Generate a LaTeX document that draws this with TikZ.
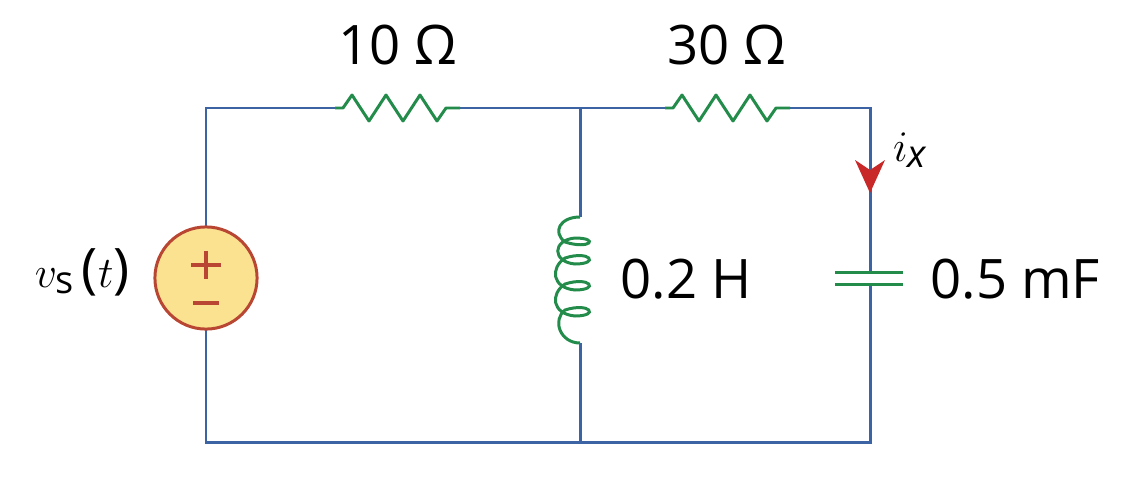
\documentclass[tikz,border=0pt]{standalone}
\usepackage{fontspec}
\setmainfont{Open Sans}
\definecolor{wire}{RGB}{60,100,165}
\definecolor{comp}{RGB}{35,140,75}
\definecolor{arr}{RGB}{200,40,40}
\definecolor{srcfill}{RGB}{250,226,145}
\definecolor{srcline}{RGB}{185,70,50}
\begin{document}
\begin{tikzpicture}[x=0.02cm,y=-0.02cm,
  wirel/.style={draw=wire,line width=1.7pt},
  compl/.style={draw=comp,line width=1.7pt},
  lab/.style={font=\fontsize{31}{33}\selectfont,text=black,inner sep=0pt}]
\useasboundingbox (0,0) rectangle (1139,501);
\coordinate (tl) at (206,108); \coordinate (tm) at (580,108); \coordinate (tr) at (870,108);
\coordinate (bl) at (206,442); \coordinate (bm) at (580,442); \coordinate (br) at (870,442);
\coordinate (r1a) at (335,108); \coordinate (r1b) at (460,108);
\coordinate (r2a) at (665,108); \coordinate (r2b) at (790,108);
\coordinate (la) at (580,217); \coordinate (lb) at (580,343);
\coordinate (c1) at (870,272); \coordinate (c2) at (870,284);
% wires
\draw[wirel] (r1b) -- (tm) -- (r2a);
\draw[wirel] (r2b) -- (tr) -- (c1);
\draw[wirel] (c2) -- (br) -- (bm) -- (bl) -- (206,330);
\draw[wirel] (206,226) -- (tl) -- (r1a);
\draw[wirel] (tm) -- (la); \draw[wirel] (lb) -- (bm);
% resistors
\draw[compl,line join=round] (r1a) -- ++(8,0) -- ++(9,-13) -- ++(17,26) -- ++(17,-26) -- ++(17,26) -- ++(17,-26) -- ++(17,26) -- ++(9,-13) -- (r1b);
\draw[compl,line join=round] (r2a) -- ++(8,0) -- ++(9,-13) -- ++(17,26) -- ++(17,-26) -- ++(17,26) -- ++(17,-26) -- ++(17,26) -- ++(9,-13) -- (r2b);
% inductor
\draw[compl] (la) .. controls (560,217) and (552,232) .. (565,242)
  .. controls (590,250) and (600,238) .. (575,238)
  .. controls (552,240) and (552,262) .. (575,264)
  .. controls (600,264) and (590,250) .. (565,258)
  .. controls (550,268) and (552,288) .. (575,290)
  .. controls (600,290) and (590,276) .. (565,284)
  .. controls (550,294) and (552,314) .. (575,316)
  .. controls (600,316) and (590,302) .. (565,310)
  .. controls (552,320) and (560,343) .. (lb);
% capacitor
\draw[compl] (835,272) -- (903,272);
\draw[compl] (835,284) -- (903,284);
% source
\node[circle,draw=srcline,fill=srcfill,line width=1.7pt,minimum size=102pt*0.57] (src) at (206,278) {};
\draw[srcline,line width=1.8pt] (191,265) -- (221,265) (206,251) -- (206,279);
\draw[srcline,line width=1.8pt] (193,303) -- (219,303);
% arrow
\fill[arr] (855,160) -- (870,193) -- (885,160) -- (870,170) -- cycle;
% labels
\node[lab] at (398,45) {10 Ω};
\node[lab] at (727,45) {30 Ω};
\node[lab,anchor=west] at (620,279) {0.2 H};
\node[lab,anchor=west] at (930,279) {0.5 mF};
\node[lab] at (910,150) {$i_{\mathit{x}}$};
\node[lab,anchor=east] at (130,272) {$v_{\mathrm{s}}\,$($t$)};
\end{tikzpicture}
\end{document}
